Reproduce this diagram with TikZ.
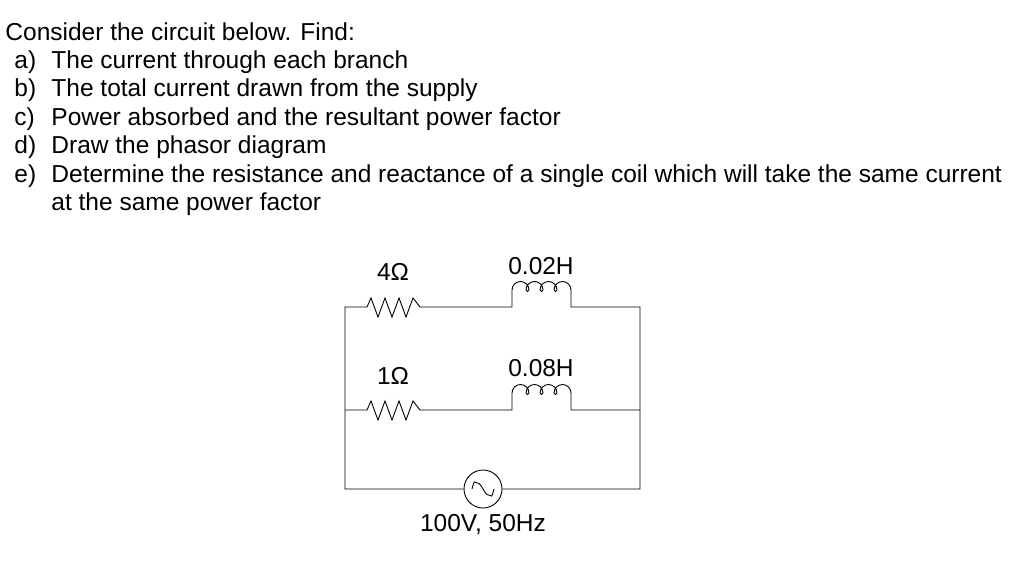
\documentclass[tikz,border=0pt]{standalone}
\usepackage{fontspec}
\setmainfont{Liberation Sans}
\begin{document}
\begin{tikzpicture}[x=1pt,y=-1pt,line width=0.9pt,
 lbl/.style={font=\fontsize{24.5}{28}\selectfont,inner sep=0},
 txt/.style={font=\fontsize{24.5}{28.4}\selectfont,anchor=base west,inner sep=0}]
\useasboundingbox (0,0) rectangle (1023,568);
\node[txt] (q) at (5,40) {Consider the circuit below. Find:};
\node[txt] (la) at (14,68.4) {a)};
\node[txt] (lb) at (14,96.8) {b)};
\node[txt] (lc) at (14,125.2) {c)};
\node[txt] (ld) at (14,153.6) {d)};
\node[txt] (le) at (14,182) {e)};
\node[txt] (ta) at (51,68.4) {The current through each branch};
\node[txt] (tb) at (51,96.8) {The total current drawn from the supply};
\node[txt] (tc) at (51,125.2) {Power absorbed and the resultant power factor};
\node[txt] (td) at (51,153.6) {Draw the phasor diagram};
\node[txt] (te) at (51,182) {Determine the resistance and reactance of a single coil which will take the same current};
\node[txt] (tf) at (51,210.4) {at the same power factor};
\coordinate (tl) at (345,307); \coordinate (tr) at (640,307);
\coordinate (ml) at (345,410); \coordinate (mr) at (640,410);
\coordinate (bl) at (345,489); \coordinate (br) at (640,489);
\node[circle,draw,minimum size=38pt,inner sep=0] (src) at (483,489) {};
\draw (src.center)++(-11,0) .. controls +(3,-11) and +(-4,0) .. ++(5.5,-6) .. controls +(4,0) and +(-4,0) .. ++(11,12) .. controls +(4,0) and +(-3,11) .. ++(5.5,-6);
\draw (src.west) -- (bl) -- (tl) -- (367,307) -- (371,298) -- (378,317) -- (385,298) -- (392,317) -- (399,298) -- (406,317) -- (413,298) -- (420,307) -- (512,307) -- (512,290)
 arc(180:360:8.5) arc(0:180:1.5) arc(180:360:8.5) arc(0:180:1.5) arc(180:360:8.5) arc(0:180:1.5) arc(180:360:8.5) -- (571,307) -- (tr) -- (br) -- (src.east);
\draw (ml) -- (367,410) -- (371,401) -- (378,420) -- (385,401) -- (392,420) -- (399,401) -- (406,420) -- (413,401) -- (420,410) -- (512,410) -- (512,393)
 arc(180:360:8.5) arc(0:180:1.5) arc(180:360:8.5) arc(0:180:1.5) arc(180:360:8.5) arc(0:180:1.5) arc(180:360:8.5) -- (571,410) -- (mr);
\node[lbl] (r1) at (393,272) {4Ω};
\node[lbl] (l1) at (541,266) {0.02H};
\node[lbl] (r2) at (393,376) {1Ω};
\node[lbl] (l2) at (541,368) {0.08H};
\node[lbl] (v) at (483,525) {100V, 50Hz};
\end{tikzpicture}
\end{document}
